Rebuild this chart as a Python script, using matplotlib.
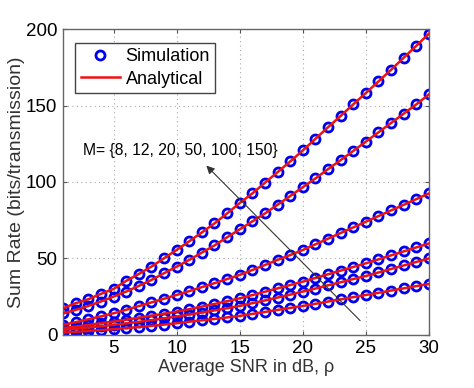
import matplotlib
matplotlib.use("Agg")
import matplotlib.pyplot as plt
import numpy as np

snr_db = list(range(1, 31))

rate_m150 = [17.4, 20.7, 23.3, 26.8, 30.0, 35.3, 39.8, 44.6, 50.1, 55.5,
             61.2, 67.0, 72.9, 79.4, 86.2, 92.5, 99.5, 106.4, 113.4, 120.6,
             128.2, 135.8, 143.2, 150.8, 158.2, 165.8, 173.4, 181.3, 189.1, 197.0]
rate_m100 = [14.0, 16.3, 18.9, 21.8, 25.0, 28.3, 32.0, 35.9, 40.3, 44.6,
             49.0, 53.8, 58.5, 63.8, 69.0, 74.2, 79.4, 85.1, 90.8, 96.6,
             102.3, 108.4, 114.3, 120.3, 126.4, 132.5, 138.6, 144.7, 150.8, 157.3]
rate_m50 = [6.5, 8.3, 10.2, 12.1, 14.1, 16.4, 18.8, 21.2, 23.6, 26.1,
            28.6, 31.2, 33.8, 36.5, 39.2, 42.4, 45.7, 49.0, 52.2, 55.5,
            59.2, 62.9, 66.6, 70.3, 74.0, 77.7, 81.4, 85.1, 88.8, 92.5]
rate_m20 = [4.4, 5.4, 6.5, 7.6, 8.7, 9.9, 11.2, 12.5, 13.8, 15.2,
            16.8, 18.5, 20.2, 22.0, 23.9, 26.0, 28.2, 30.4, 32.6, 34.8,
            37.2, 39.6, 42.0, 44.4, 46.8, 49.4, 52.0, 54.6, 57.2, 59.8]
rate_m12 = [3.3, 4.0, 4.8, 5.6, 6.5, 7.5, 8.5, 9.6, 10.8, 12.0,
            13.3, 14.6, 16.0, 17.4, 18.9, 20.7, 22.5, 24.4, 26.3, 28.3,
            30.3, 32.4, 34.4, 36.5, 38.5, 40.8, 43.1, 45.4, 47.7, 50.0]
rate_m8 = [1.5, 2.0, 2.5, 3.1, 3.7, 4.4, 5.1, 5.9, 6.7, 7.6,
           8.6, 9.5, 10.4, 11.4, 12.4, 13.7, 15.0, 16.3, 17.6, 18.9,
           20.3, 21.8, 23.2, 24.7, 26.1, 27.5, 29.0, 30.4, 31.9, 33.3]

series = [rate_m150, rate_m100, rate_m50, rate_m20, rate_m12, rate_m8]
x_ticks = [5, 10, 15, 20, 25, 30]
y_ticks = [0, 50, 100, 150, 200]

plt.rcParams['font.family'] = ['Liberation Sans', 'DejaVu Sans']

fig = plt.figure(figsize=(4.74, 3.88), dpi=100)
ax = fig.add_axes([0.133, 0.137, 0.772, 0.788])

for i, s in enumerate(series):
    ax.plot(snr_db, s, linestyle='none', marker='o', markersize=6.5,
            markerfacecolor='none', markeredgecolor='#0000ee', markeredgewidth=2.0,
            label='Simulation' if i == 0 else None, zorder=2)
for i, s in enumerate(series):
    ax.plot(snr_db, s, color='#ee1111', linewidth=1.8,
            label='Analytical' if i == 0 else None, zorder=3)

ax.set_xlim(1, 30)
ax.set_ylim(0, 200)
ax.set_xticks(x_ticks)
ax.set_yticks(y_ticks)
ax.grid(True, linestyle=(0, (1, 3)), color='#aaaaaa', linewidth=0.8)
ax.tick_params(direction='in', labelsize=13.5, top=True, right=True, length=3,
               color='#555555', pad=4)
for sp in ax.spines.values():
    sp.set_color('#666666')
    sp.set_linewidth(1.0)

ax.set_xlabel('Average SNR in dB, ρ', fontsize=13, color='#333333', labelpad=1)
ax.set_ylabel('Sum Rate (bits/transmission)', fontsize=14, color='#333333', labelpad=1)

leg = ax.legend(loc='upper left', bbox_to_anchor=(0.033, 0.955), borderaxespad=0,
                fontsize=13, fancybox=False, framealpha=1, edgecolor='#444444',
                handlelength=2.2, borderpad=0.3, labelspacing=0.3, handletextpad=0.3)
leg.get_frame().set_linewidth(1.0)

ax.annotate('', xy=(12.2, 112), xytext=(24.7, 8),
            arrowprops=dict(arrowstyle='-|>', color='#333333', lw=0.8, mutation_scale=12))
ax.text(2.6, 120.3, 'M= {8, 12, 20, 50, 100, 150}', fontsize=11.3, va='center', ha='left')

fig.savefig('out.png', dpi=100)
